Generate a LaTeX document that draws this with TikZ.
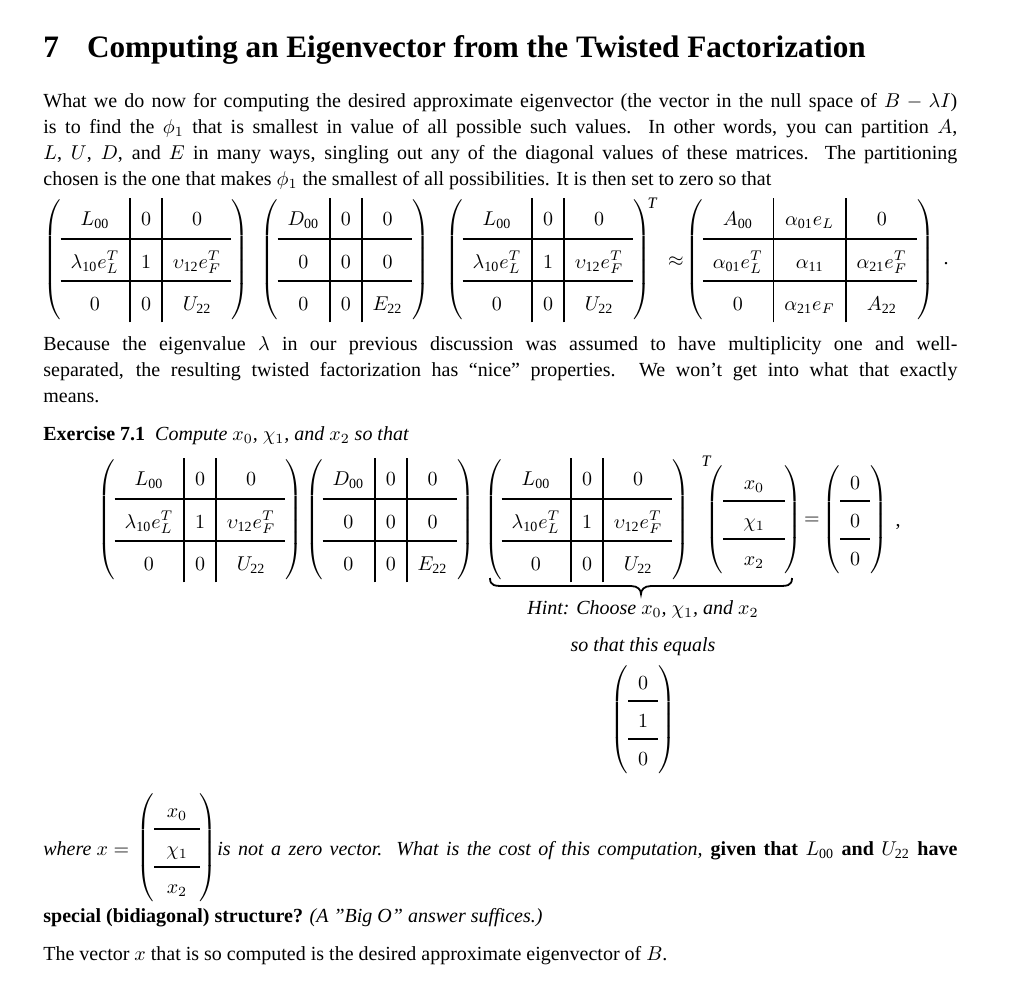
\documentclass[tikz,border=0pt]{standalone}
\usepackage{fontspec}
\setmainfont{Liberation Serif}
\usepackage{amsmath,array}
\newcommand{\mA}{\renewcommand\arraystretch{1.55}\setlength\arrayrulewidth{0.9pt}\setlength\arraycolsep{5pt}}
\newcommand{\mB}{\renewcommand\arraystretch{1.4}\setlength\arrayrulewidth{0.9pt}\setlength\arraycolsep{5pt}}
\newcommand{\zz}{\mathrm}
\begin{document}
\begin{tikzpicture}[x=0.5pt,y=-0.5pt,
  txt/.style={anchor=base west,inner sep=0pt,font=\fontsize{10}{13}\selectfont},
  par/.style={txt,text width=457pt,align=justify},
  mat/.style={inner sep=0pt,font=\fontsize{10}{13}\selectfont}]
\useasboundingbox (0,0) rectangle (1024,991);
\node[txt,font=\fontsize{15.6}{19}\selectfont\bfseries] (title) at (43,57) {7\hspace{0.9em}Computing an Eigenvector from the Twisted Factorization};
\node[par] (p1) at (43,107) {What we do now for computing the desired approximate eigenvector (the vector in the null space of $B-\lambda I$)\linebreak is to find the $\phi_1$ that is smallest in value of all possible such values. In other words, you can partition $A$,\linebreak $L$, $U$, $D$, and $E$ in many ways, singling out any of the diagonal values of these matrices. The partitioning\linebreak chosen is the one that makes $\phi_1$ the smallest of all possibilities. It is then set to zero so that};
% equation 1
\node[mat] (m1) at (146,260) {\mA$\left(\begin{array}{c|c|c} L_{\zz{00}} & 0 & 0\\\hline \lambda_{\zz{10}}e_L^T & 1 & \upsilon_{\zz{12}}e_F^T\\\hline 0&0&U_{\zz{22}}\end{array}\right)$};
\node[mat] (m2) at (345,260) {\mA$\left(\begin{array}{c|c|c} D_{\zz{00}} & 0 & 0\\\hline 0 & 0 & 0\\\hline 0&0&E_{\zz{22}}\end{array}\right)$};
\node[mat] (m3) at (548,260) {\mA$\left(\begin{array}{c|c|c} L_{\zz{00}} & 0 & 0\\\hline \lambda_{\zz{10}}e_L^T & 1 & \upsilon_{\zz{12}}e_F^T\\\hline 0&0&U_{\zz{22}}\end{array}\right)$};
\node[mat,font=\fontsize{8}{9}\selectfont\itshape] (t1) at (652,203) {T};
\node[mat] (ap) at (676,262) {$\approx$};
\node[mat] (m4) at (810,260) {\mA$\left(\begin{array}{c|c|c} A_{\zz{00}} & \alpha_{\zz{01}}e_L & 0\\\hline \alpha_{\zz{01}}e_L^T & \alpha_{\zz{11}} & \alpha_{\zz{21}}e_F^T\\\hline 0&\alpha_{\zz{21}}e_F&A_{\zz{22}}\end{array}\right)$};
\node[mat] (dot1) at (946,264) {.};
\node[par] (p2) at (43,350) {Because the eigenvalue $\lambda$ in our previous discussion was assumed to have multiplicity one and well-\linebreak separated, the resulting twisted factorization has ``nice'' properties. We won't get into what that exactly\linebreak means.};
\node[txt] (ex) at (43,440) {\textbf{Exercise 7.1}\ \ \textit{Compute $x_0$, $\chi_1$, and $x_2$ so that}};
% equation 2
\node[mat] (n1) at (200,520) {\mA$\left(\begin{array}{c|c|c} L_{\zz{00}} & 0 & 0\\\hline \lambda_{\zz{10}}e_L^T & 1 & \upsilon_{\zz{12}}e_F^T\\\hline 0&0&U_{\zz{22}}\end{array}\right)$};
\node[mat] (n2) at (390,520) {\mA$\left(\begin{array}{c|c|c} D_{\zz{00}} & 0 & 0\\\hline 0 & 0 & 0\\\hline 0&0&E_{\zz{22}}\end{array}\right)$};
\node[mat] (n3) at (587,520) {\mA$\left(\begin{array}{c|c|c} L_{\zz{00}} & 0 & 0\\\hline \lambda_{\zz{10}}e_L^T & 1 & \upsilon_{\zz{12}}e_F^T\\\hline 0&0&U_{\zz{22}}\end{array}\right)$};
\node[mat,font=\fontsize{8}{9}\selectfont\itshape] (t2) at (706,461) {T};
\node[mat] (xv) at (754,520) {\mB$\left(\begin{array}{@{\hspace{10pt}}c@{\hspace{10pt}}} x_0\\\hline \chi_1\\\hline x_2\end{array}\right)$};
\node[mat] (eq) at (812,521) {$=$};
\node[mat] (zv) at (855,520) {\mB$\left(\begin{array}{c} 0\\\hline 0\\\hline 0\end{array}\right)$};
\node[mat] (cm) at (898,527) {,};
\coordinate (bl) at (490,578);
\coordinate (br) at (792,578);
\draw[line width=0.9pt] (bl) .. controls (490,586) and (495,586) .. (505,586) -- (631,586) .. controls (638,586) and (641,590) .. (641,594) .. controls (641,590) and (644,586) .. (651,586) -- (777,586) .. controls (787,586) and (792,586) .. (br);
\node[mat,anchor=base,font=\fontsize{10}{13}\selectfont\itshape] (h1) at (643,614) {Hint: Choose $x_0$, $\chi_1$, and $x_2$};
\node[mat,anchor=base,font=\fontsize{10}{13}\selectfont\itshape] (h2) at (643,651) {so that this equals};
\node[mat] (hv) at (643,720) {\mB$\left(\begin{array}{c} 0\\\hline 1\\\hline 0\end{array}\right)$};
% where line
\node[txt,font=\fontsize{10}{13}\selectfont\itshape] (wh) at (43,855) {where $x=$};
\node[mat] (wv) at (177,848) {\mB$\left(\begin{array}{@{\hspace{6pt}}c@{\hspace{6pt}}} x_0\\\hline \chi_1\\\hline x_2\end{array}\right)$};
\node[txt,font=\fontsize{10}{13}\selectfont\itshape] (w2) at (217,855) {\makebox[370pt][s]{is not a zero vector. What is the cost of this computation, \textbf{\upshape given that $L_{\zz{00}}$ and $U_{\zz{22}}$ have}}};
\node[txt] (w3) at (43,922) {\textbf{special (bidiagonal) structure?} \textit{(A ''Big O'' answer suffices.)}};
\node[txt] (last) at (43,960) {The vector $x$ that is so computed is the desired approximate eigenvector of $B$.};
\end{tikzpicture}
\end{document}
